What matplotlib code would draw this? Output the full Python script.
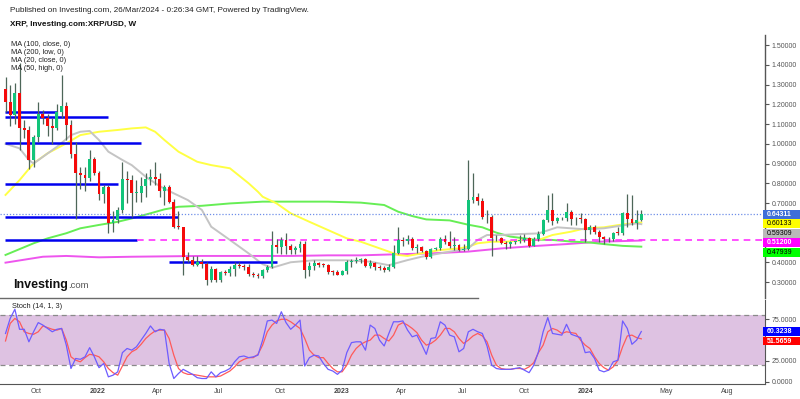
import matplotlib
matplotlib.use("Agg")
import matplotlib.pyplot as plt
import matplotlib.transforms as mtransforms
from matplotlib.patches import Rectangle
from matplotlib.lines import Line2D
import numpy as np
import pandas as pd

plt.rcParams['font.family'] = ['Liberation Sans', 'DejaVu Sans']

# ---------------- data ----------------
start_date = pd.Timestamp('2021-08-16')   # first weekly candle

opens = [1.28,1.21,1.145,1.255,1.078,1.07,0.92,1.035,1.153,1.13,
         1.09,1.08,1.16,1.19,1.094,0.95,0.85,0.84,0.825,0.925,
         0.85,0.745,0.78,0.60,0.615,0.665,0.82,0.815,0.75,0.75,
         0.785,0.82,0.83,0.82,0.76,0.78,0.707,0.58,0.578,0.428,
         0.41,0.388,0.40,0.39,0.31,0.365,0.31,0.35,0.345,0.365,
         0.385,0.38,0.375,0.34,0.335,0.33,0.36,0.375,0.487,0.475,
         0.515,0.48,0.462,0.47,0.49,0.36,0.38,0.394,0.388,0.387,
         0.352,0.35,0.337,0.355,0.403,0.408,0.41,0.415,0.38,0.398,
         0.375,0.372,0.362,0.378,0.445,0.513,0.51,0.52,0.47,0.475,
         0.457,0.425,0.465,0.472,0.52,0.505,0.48,0.485,0.463,0.468,
         0.715,0.73,0.712,0.627,0.628,0.521,0.522,0.50,0.495,0.502,
         0.508,0.515,0.522,0.483,0.52,0.545,0.614,0.664,0.61,0.626,
         0.622,0.656,0.617,0.62,0.618,0.563,0.577,0.555,0.529,0.516,
         0.52,0.55,0.548,0.648,0.617,0.60,0.614]
highs = [1.34,1.30,1.31,1.41,1.12,1.09,1.045,1.21,1.17,1.15,
         1.13,1.20,1.35,1.21,1.12,1.01,0.88,0.88,0.97,0.935,
         0.86,0.79,0.79,0.66,0.68,0.91,0.86,0.84,0.815,0.83,
         0.853,0.87,0.91,0.85,0.79,0.79,0.72,0.66,0.58,0.45,
         0.43,0.43,0.415,0.40,0.38,0.37,0.355,0.36,0.38,0.40,
         0.40,0.39,0.39,0.35,0.345,0.365,0.385,0.558,0.52,0.53,
         0.55,0.49,0.48,0.51,0.51,0.40,0.41,0.40,0.395,0.39,
         0.36,0.36,0.362,0.41,0.415,0.425,0.42,0.42,0.41,0.40,
         0.385,0.38,0.39,0.487,0.58,0.53,0.54,0.53,0.49,0.48,
         0.46,0.47,0.475,0.53,0.54,0.56,0.53,0.495,0.49,0.92,
         0.85,0.75,0.725,0.665,0.64,0.54,0.53,0.51,0.51,0.51,
         0.54,0.545,0.53,0.53,0.56,0.62,0.74,0.75,0.63,0.63,
         0.70,0.665,0.63,0.65,0.625,0.59,0.59,0.565,0.535,0.53,
         0.555,0.58,0.655,0.745,0.74,0.665,0.665]
lows = [1.16,1.09,1.10,0.97,1.03,0.87,0.88,1.01,1.10,1.04,
        1.00,1.07,1.13,1.02,0.93,0.62,0.77,0.76,0.81,0.84,
        0.715,0.70,0.55,0.555,0.60,0.65,0.70,0.63,0.707,0.707,
        0.73,0.79,0.79,0.73,0.69,0.70,0.575,0.57,0.335,0.40,
        0.38,0.38,0.37,0.285,0.30,0.30,0.30,0.335,0.33,0.33,
        0.37,0.36,0.33,0.325,0.32,0.32,0.35,0.37,0.445,0.44,
        0.44,0.44,0.44,0.45,0.32,0.33,0.36,0.375,0.378,0.34,
        0.335,0.335,0.335,0.34,0.375,0.395,0.395,0.375,0.37,0.36,
        0.36,0.35,0.355,0.37,0.44,0.48,0.49,0.46,0.445,0.45,
        0.415,0.42,0.46,0.46,0.495,0.47,0.46,0.455,0.455,0.46,
        0.70,0.69,0.62,0.60,0.43,0.51,0.49,0.465,0.47,0.49,
        0.50,0.505,0.475,0.48,0.51,0.54,0.605,0.59,0.60,0.615,
        0.61,0.59,0.59,0.60,0.505,0.545,0.545,0.505,0.49,0.505,
        0.51,0.54,0.54,0.58,0.59,0.57,0.61]
closes = [1.21,1.145,1.255,1.078,1.07,0.92,1.035,1.153,1.13,1.09,
          1.08,1.16,1.19,1.094,0.95,0.85,0.84,0.825,0.925,0.85,
          0.745,0.78,0.60,0.615,0.665,0.82,0.815,0.75,0.75,0.785,
          0.82,0.83,0.82,0.76,0.78,0.707,0.58,0.578,0.428,0.41,
          0.388,0.40,0.39,0.31,0.365,0.31,0.35,0.345,0.365,0.385,
          0.38,0.375,0.34,0.335,0.33,0.36,0.375,0.487,0.475,0.515,
          0.48,0.462,0.47,0.49,0.36,0.38,0.394,0.388,0.387,0.352,
          0.35,0.337,0.355,0.403,0.408,0.41,0.415,0.38,0.398,0.375,
          0.372,0.362,0.378,0.445,0.513,0.51,0.52,0.47,0.475,0.457,
          0.425,0.465,0.472,0.52,0.505,0.48,0.485,0.463,0.468,0.715,
          0.73,0.712,0.627,0.628,0.521,0.522,0.50,0.495,0.502,0.508,
          0.515,0.522,0.483,0.52,0.545,0.614,0.664,0.61,0.626,0.622,
          0.656,0.617,0.62,0.618,0.563,0.577,0.555,0.529,0.516,0.52,
          0.55,0.548,0.648,0.617,0.60,0.614,0.64311]

# moving averages (week index, value)
ma20_idx = [0,3,5,6,8,11,14,16,18,20,22,25,27,30,33,36,39,42,44,48,52,55,57,61,66,73,78,82,86,89,93,97,99,101,103,106,110,114,118,121,124,128,131,135,136]
ma20_val = [1.00,0.977,0.918,0.90,0.934,0.985,1.044,1.061,1.065,1.019,0.96,0.918,0.892,0.833,0.785,0.749,0.715,0.665,0.58,0.513,0.445,0.39,0.372,0.40,0.41,0.41,0.403,0.385,0.411,0.428,0.445,0.462,0.47,0.513,0.538,0.538,0.543,0.546,0.577,0.572,0.567,0.572,0.583,0.597,0.593]
ma50_idx = [0,3,6,9,13,16,20,24,27,30,32,34,37,41,44,48,52,54,55,58,61,65,69,73,76,79,82,84,86,89,93,97,99,101,104,107,111,114,117,121,124,128,131,135,136]
ma50_val = [0.741,0.816,0.901,0.952,1.002,1.044,1.061,1.07,1.078,1.083,1.061,1.019,0.96,0.909,0.892,0.876,0.80,0.757,0.732,0.698,0.648,0.605,0.563,0.521,0.504,0.479,0.454,0.437,0.432,0.445,0.462,0.47,0.479,0.496,0.504,0.504,0.513,0.513,0.538,0.555,0.572,0.577,0.588,0.60,0.601]
ma100_idx = [0,6,9,13,16,20,24,27,31,34,37,42,48,55,61,69,76,81,84,87,90,95,99,102,105,108,113,117,121,125,128,132,136]
ma100_val = [0.437,0.496,0.521,0.547,0.572,0.589,0.605,0.622,0.648,0.668,0.681,0.686,0.698,0.707,0.707,0.707,0.702,0.69,0.656,0.634,0.617,0.612,0.59,0.577,0.55,0.53,0.515,0.513,0.505,0.50,0.492,0.483,0.479]
ma200_idx = [0,8,13,20,27,42,54,61,69,76,83,91,99,106,113,120,127,136]
ma200_val = [0.398,0.428,0.432,0.425,0.428,0.432,0.432,0.432,0.435,0.435,0.44,0.445,0.454,0.47,0.482,0.492,0.504,0.51]

# stochastic (14,1,3)
stoch_k = [58,76,87,63,63,48,60,71,68,64,
           60,63,64,44,16,28,27,30,41,30,
           17,22,6,8,12,35,40,38,42,50,
           58,67,60,63,62,22,4,10,15,12,
           9,5,4,4,12,6,11,13,16,24,
           30,31,29,30,32,50,73,74,70,84,
           71,63,68,74,19,29,32,31,22,15,
           13,9,14,35,47,48,48,38,68,64,
           50,43,58,72,72,73,62,54,56,45,
           33,52,53,72,68,56,54,36,40,60,
           63,60,58,43,20,16,15,15,15,16,
           17,14,11,20,36,60,77,58,57,56,
           69,57,55,53,35,36,28,14,12,14,
           24,26,73,64,45,50,60.3238]
stoch_d = [49,70,76,72,60,58,57,60,67,65,
           63,62,64,50,30,26,24,29,33,32,
           30,24,16,11,8,19,30,36,39,45,
           52,57,61,62,62,52,32,16,11,9,
           9,8,7,6,6,6,7,10,13,18,
           24,27,29,29,33,44,60,68,73,75,
           75,72,68,64,52,38,32,29,29,22,
           16,12,12,20,32,40,45,48,50,56,
           56,52,49,56,68,71,68,64,59,50,
           44,46,50,56,64,64,60,52,46,50,
           55,58,55,48,32,20,16,15,15,16,
           16,15,18,23,35,44,60,64,62,58,
           60,59,58,50,44,40,30,22,17,14,
           18,26,42,55,56,53,51.5659]

# hand-drawn support / resistance levels: level, first week, last week
level_vals = [1.162, 1.137, 1.002, 0.796, 0.629, 0.512, 0.40]
level_from = [-0.1, -0.1, -0.1, -0.1, -0.1, -0.1, 35.0]
level_to = [11.0, 21.9, 29.0, 24.1, 36.9, 28.1, 58.1]
dash_level = 0.512
dash_from = 28.1
last_price = 0.64311

price_ticks = [0.3, 0.4, 0.5, 0.6, 0.7, 0.8, 0.9, 1.0, 1.1, 1.2, 1.3, 1.4, 1.5]
price_hidden = [0.5, 0.6]          # tick labels covered by the value boxes
stoch_ticks = [0, 25, 50, 75]
stoch_hidden = [50]

month_dates = ['2021-10-01','2022-01-01','2022-04-01','2022-07-01','2022-10-01','2023-01-01',
               '2023-04-01','2023-07-01','2023-10-01','2024-01-01','2024-05-01','2024-08-01']
month_labels = ['Oct','2022','Apr','Jul','Oct','2023','Apr','Jul','Oct','2024','May','Aug']

legend_lines = ['MA (100, close, 0)', 'MA (200, low, 0)', 'MA (20, close, 0)', 'MA (50, high, 0)']

# price labels on the right axis: value, text, face, text colour, bold
price_labels = [(0.64311, '0.64311', '#3f6fd8', 'white', True),
                (0.60133, '0.60133', '#ffff00', 'black', False),
                (0.59309, '0.59309', '#b9b9b9', 'black', False),
                (0.51200, '0.51200', '#ff00ff', 'white', True),
                (0.47939, '0.47939', '#00ff00', 'black', False)]
stoch_labels = [(60.3238, '60.3238', '#0000ff', 'white', True),
                (51.5659, '51.5659', '#ff0000', 'white', True)]

# ---------------- layout ----------------
W, H = 800, 399
def fx(px): return px / W
def fy(py): return 1 - py / H

fig = plt.figure(figsize=(W / 100, H / 100), dpi=100)
fig.patch.set_facecolor('white')

ax = fig.add_axes([0, fy(298), fx(765), fy(35) - fy(298)])
axs = fig.add_axes([0, fy(384), fx(765), fy(300) - fy(384)])

n = len(closes)
x = np.arange(n)
o = np.array(opens); h = np.array(highs); l = np.array(lows); c = np.array(closes)

xlim = (-1.18, 162.46)

# ---------------- main panel ----------------
ax.set_xlim(*xlim)
ax.set_ylim(0.219, 1.551)

ax.plot(ma200_idx, ma200_val, color='#ee55ee', lw=1.4, zorder=2)
ax.plot(ma100_idx, ma100_val, color='#66ee55', lw=1.4, zorder=2)
ax.plot(ma50_idx, ma50_val, color='#ffff44', lw=1.4, zorder=2)
ax.plot(ma20_idx, ma20_val, color='#c4c4c4', lw=1.4, zorder=2)

for v, a, b in zip(level_vals, level_from, level_to):
    ax.plot([a, b], [v, v], color='#0000ee', lw=1.8, zorder=2.5, solid_capstyle='butt')
ax.plot([dash_from, xlim[1]], [dash_level, dash_level], color='#ff33ff', lw=1.2,
        ls=(0, (4, 3)), zorder=2.5)
ax.axhline(last_price, color='#6f8fe8', lw=0.9, ls=(0, (1, 1.5)), zorder=2.4)

up = c >= o
body_bot = np.minimum(o, c)
body_h = np.maximum(np.abs(c - o), 0.004)
ax.vlines(x, l, h, color='#4d6658', lw=0.9, zorder=3)
ax.bar(x, body_h, bottom=body_bot, width=0.62,
       color=np.where(up, '#12c47a', '#f50a0a'), linewidth=0, zorder=4)

for s in ['top', 'left', 'bottom']:
    ax.spines[s].set_visible(False)
ax.spines['right'].set_color('#555555')
ax.spines['right'].set_linewidth(1.0)
ax.set_xticks([])
ax.yaxis.tick_right()
ax.set_yticks(price_ticks)
ax.set_yticklabels(['' if any(abs(t - hdn) < 1e-9 for hdn in price_hidden) else '%.5f' % t
                    for t in price_ticks])
ax.tick_params(axis='y', length=3, width=0.8, color='#555555', labelsize=5,
               labelcolor='#555555', pad=2)

trans = mtransforms.blended_transform_factory(ax.transAxes, ax.transData)
ppx = 197.5  # pixels per price unit
gap = 9.5 / ppx
prev = None
for v, txt, fc, tc, bold in price_labels:
    yv = v if prev is None else min(v, prev - gap)
    prev = yv
    hh = 8.6 / ppx
    ax.add_patch(Rectangle((763 / 765, yv - hh / 2), 37 / 765, hh, transform=trans,
                           facecolor=fc, edgecolor='none', clip_on=False, zorder=10))
    ax.text(767 / 765, yv, txt, transform=trans, fontsize=5, color=tc,
            weight='bold' if bold else 'normal', va='center', ha='left',
            clip_on=False, zorder=11)

# ---------------- stochastic panel ----------------
axs.set_xlim(*xlim)
axs.set_ylim(-2.58, 98.1)
axs.axhspan(20, 80, color='#dec2e2', zorder=0, lw=0)
axs.axhline(80, color='#8a8a8a', lw=0.9, ls=(0, (4, 3)), zorder=1)
axs.axhline(20, color='#8a8a8a', lw=0.9, ls=(0, (4, 3)), zorder=1)
axs.plot(x, stoch_d, color='#ff5a5a', lw=0.9, zorder=2)
axs.plot(x, stoch_k, color='#6e5cff', lw=0.9, zorder=3)

for s in ['top', 'left']:
    axs.spines[s].set_visible(False)
axs.spines['right'].set_color('#555555')
axs.spines['bottom'].set_color('#555555')
axs.yaxis.tick_right()
axs.set_yticks(stoch_ticks)
axs.set_yticklabels(['' if t in stoch_hidden else '%.4f' % t for t in stoch_ticks])
axs.tick_params(axis='y', length=3, width=0.8, color='#555555', labelsize=5,
                labelcolor='#555555', pad=2)

tick_pos = [(pd.Timestamp(d) - start_date).days / 7.0 for d in month_dates]
axs.set_xticks(tick_pos)
axs.set_xticklabels(month_labels)
axs.tick_params(axis='x', length=0, labelsize=5, labelcolor='#444444', pad=3)
for lab in axs.get_xticklabels():
    if lab.get_text().isdigit():
        lab.set_fontweight('bold')

strans = mtransforms.blended_transform_factory(axs.transAxes, axs.transData)
spx = 84 / (98.1 + 2.58)
sgap = 9.5 / spx
prev = None
for v, txt, fc, tc, bold in stoch_labels:
    yv = v if prev is None else min(v, prev - sgap)
    prev = yv
    hh = 8.6 / spx
    axs.add_patch(Rectangle((763 / 765, yv - hh / 2), 37 / 765, hh, transform=strans,
                            facecolor=fc, edgecolor='none', clip_on=False, zorder=10))
    axs.text(767 / 765, yv, txt, transform=strans, fontsize=5, color=tc,
             weight='bold' if bold else 'normal', va='center', ha='left',
             clip_on=False, zorder=11)

# ---------------- texts ----------------
fig.text(fx(10), fy(11), 'Published on Investing.com, 26/Mar/2024 - 0:26:34 GMT, Powered by TradingView.',
         fontsize=5.9, color='#222222', va='center', ha='left')
fig.text(fx(10), fy(25), 'XRP, Investing.com:XRP/USD, W', fontsize=5.9, weight='bold',
         color='#111111', va='center', ha='left')
for k, t in enumerate(legend_lines):
    fig.text(fx(11), fy(44 + 8.2 * k), t, fontsize=5.3, color='#222222', va='center', ha='left')
fig.text(fx(12), fy(307), 'Stoch (14, 1, 3)', fontsize=5.3, color='#222222', va='center', ha='left')
fig.text(fx(13), fy(288), 'Investing', fontsize=9, weight='bold', color='#111111',
         va='baseline', ha='left')
fig.text(fx(68.5), fy(288), '.com', fontsize=6.8, color='#555555', va='baseline', ha='left')

fig.add_artist(Line2D([0, fx(478)], [fy(298), fy(298)], color='#6a6a6a', lw=1.0))

fig.savefig('out.png', dpi=100, facecolor='white')
